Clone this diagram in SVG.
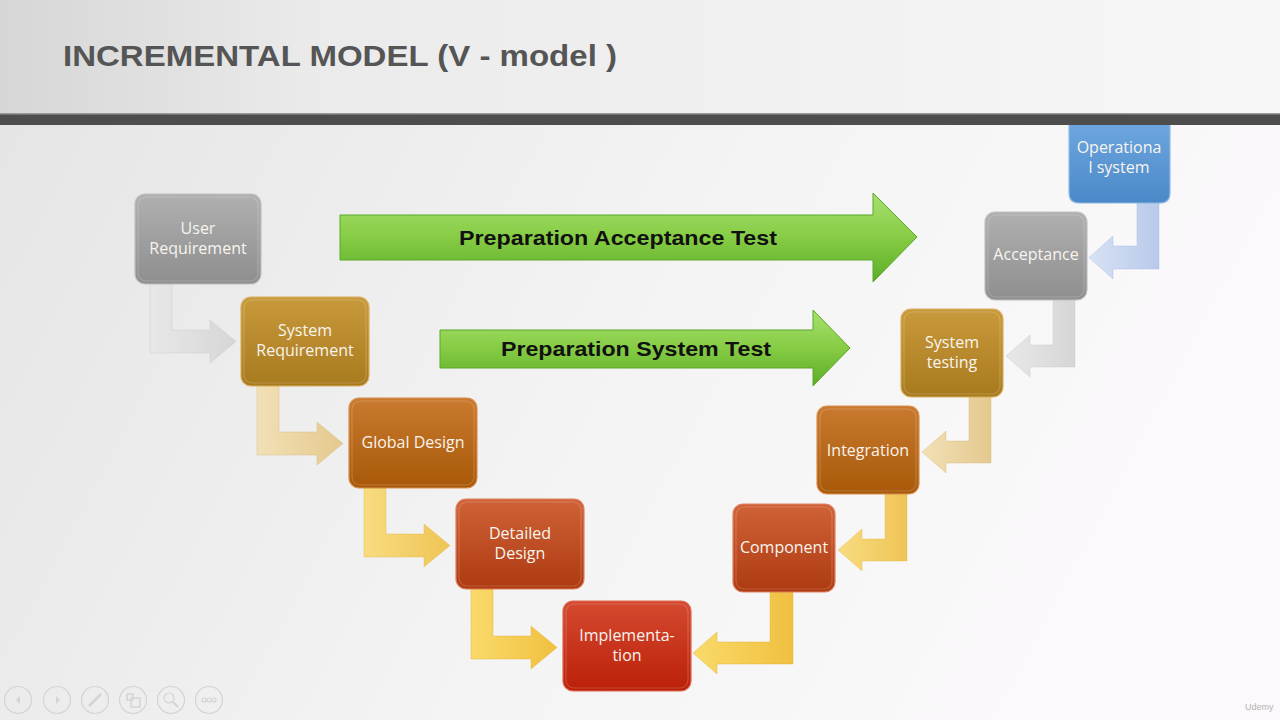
<svg xmlns="http://www.w3.org/2000/svg" width="1280" height="720" viewBox="0 0 1280 720">
<defs>
<linearGradient id="bg" x1="0" y1="0" x2="1" y2="0.3">
<stop offset="0" stop-color="#e4e4e4"/><stop offset="0.6" stop-color="#f4f4f4"/><stop offset="1" stop-color="#fbf9fb"/>
</linearGradient>
<linearGradient id="hdr" x1="0" y1="0" x2="1" y2="0">
<stop offset="0" stop-color="#d6d6d6"/><stop offset="0.25" stop-color="#ebebeb"/><stop offset="1" stop-color="#f7f7f7"/>
</linearGradient>
<linearGradient id="gGray" x1="0" y1="0" x2="0" y2="1"><stop offset="0" stop-color="#b0b0b0"/><stop offset="1" stop-color="#8e8e8e"/></linearGradient>
<linearGradient id="gGold" x1="0" y1="0" x2="0" y2="1"><stop offset="0" stop-color="#c89a3c"/><stop offset="1" stop-color="#a87a1e"/></linearGradient>
<linearGradient id="gOrange" x1="0" y1="0" x2="0" y2="1"><stop offset="0" stop-color="#c97a2e"/><stop offset="1" stop-color="#a85808"/></linearGradient>
<linearGradient id="gRedO" x1="0" y1="0" x2="0" y2="1"><stop offset="0" stop-color="#d06238"/><stop offset="1" stop-color="#ad3a10"/></linearGradient>
<linearGradient id="gRed" x1="0" y1="0" x2="0" y2="1"><stop offset="0" stop-color="#d44a30"/><stop offset="1" stop-color="#bb2008"/></linearGradient>
<linearGradient id="gBlue" x1="0" y1="0" x2="0" y2="1"><stop offset="0" stop-color="#6fa8e0"/><stop offset="1" stop-color="#4a88c8"/></linearGradient>
<linearGradient id="gGreen" x1="0" y1="0" x2="0" y2="1"><stop offset="0" stop-color="#a8e070"/><stop offset="0.5" stop-color="#86cc44"/><stop offset="1" stop-color="#5cad28"/></linearGradient>
<linearGradient id="aGray" x1="0" y1="0" x2="1" y2="0"><stop offset="0" stop-color="#e8e8e8"/><stop offset="1" stop-color="#d6d6d6"/></linearGradient>
<linearGradient id="aTan" x1="0" y1="0" x2="1" y2="0"><stop offset="0" stop-color="#f2e0b6"/><stop offset="1" stop-color="#e4c98e"/></linearGradient>
<linearGradient id="aYel" x1="0" y1="0" x2="1" y2="0"><stop offset="0" stop-color="#f8dc80"/><stop offset="1" stop-color="#efc456"/></linearGradient>
<linearGradient id="aYel2" x1="0" y1="0" x2="1" y2="0"><stop offset="0" stop-color="#fada6a"/><stop offset="1" stop-color="#f0c040"/></linearGradient>
<linearGradient id="aBlue" x1="0" y1="0" x2="1" y2="0"><stop offset="0" stop-color="#d8e2f4"/><stop offset="1" stop-color="#b8c9ea"/></linearGradient>
</defs>
<style>
.node text{font-family:"Open Sans","Noto Sans","Liberation Sans",sans-serif;font-size:16px;fill:#f8f4ee;text-anchor:middle}
.box{stroke-width:1.2}
.hl{fill:none;stroke:#ffffff;stroke-opacity:0.18;stroke-width:1.2}
.conn path{stroke-width:0.8;stroke-opacity:0.5}
.green text{font-family:"Liberation Sans",Arial,sans-serif;font-weight:bold;font-size:21px;fill:#111;text-anchor:middle}
.tb circle{fill:none;stroke:#d4d4d4;stroke-width:1.2}
</style>
<rect x="0" y="0" width="1280" height="720" fill="url(#bg)"/>
<rect x="0" y="0" width="1280" height="114" fill="url(#hdr)"/>
<text x="63" y="66" font-family="Liberation Sans,Arial,sans-serif" font-weight="bold" font-size="30" fill="#555555" textLength="554" lengthAdjust="spacingAndGlyphs">INCREMENTAL MODEL (V - model )</text>

<g id="connectors" class="conn">
<path d="M150,284 L172,284 L172,330 L210,330 L210,320 L236,341.5 L210,363 L210,353 L150,353 Z" fill="url(#aGray)" stroke="#c8c8c8"/>
<path d="M257,386 L279,386 L279,432 L317,432 L317,422 L343,443.5 L317,465 L317,455 L257,455 Z" fill="url(#aTan)" stroke="#d8bc80"/>
<path d="M364,488 L386,488 L386,534 L424,534 L424,524 L450,545.5 L424,567 L424,557 L364,557 Z" fill="url(#aYel)" stroke="#e0b848"/>
<path d="M471,589 L493,589 L493,636 L531,636 L531,626 L557,647.5 L531,669 L531,659 L471,659 Z" fill="url(#aYel2)" stroke="#e0b030"/>
<path d="M1137,203 L1159,203 L1159,269 L1113,269 L1113,279 L1089,257.5 L1113,236 L1113,246 L1137,246 Z" fill="url(#aBlue)" stroke="#a8bce0"/>
<path d="M1053,300 L1075,300 L1075,367 L1030,367 L1030,377 L1006,356 L1030,335 L1030,345 L1053,345 Z" fill="url(#aGray)" stroke="#c8c8c8"/>
<path d="M969,397 L991,397 L991,463 L946,463 L946,473 L922,452 L946,431 L946,441 L969,441 Z" fill="url(#aTan)" stroke="#d8bc80"/>
<path d="M885,494 L907,494 L907,561 L862,561 L862,571 L838,550 L862,529 L862,539 L885,539 Z" fill="url(#aYel)" stroke="#e0b848"/>
<path d="M770,592 L793,592 L793,664 L717,664 L717,674 L693,653 L717,632 L717,642 L770,642 Z" fill="url(#aYel2)" stroke="#e0b030"/>
</g>

<g id="arrow-acceptance-test" class="green">
<path d="M340,215 L873,215 L873,193 L917,237 L873,282 L873,260 L340,260 Z" fill="url(#gGreen)" stroke="#5aa828" stroke-width="1"/>
<text x="618" y="245" textLength="318" lengthAdjust="spacingAndGlyphs">Preparation Acceptance Test</text>
</g>
<g id="arrow-system-test" class="green">
<path d="M440,330 L813,330 L813,310 L850,348 L813,386 L813,368 L440,368 Z" fill="url(#gGreen)" stroke="#5aa828" stroke-width="1"/>
<text x="636" y="356" textLength="270" lengthAdjust="spacingAndGlyphs">Preparation System Test</text>
</g>

<g id="user-requirement" class="node">
<rect class="box" x="135" y="194" width="126" height="90" rx="10" fill="url(#gGray)" stroke="#c0c0c0"/>
<rect class="hl" x="138" y="197" width="120" height="84" rx="8"/>
<text x="198" y="234">User</text><text x="198" y="254">Requirement</text>
</g>
<g id="system-requirement" class="node">
<rect class="box" x="241" y="297" width="128" height="89" rx="10" fill="url(#gGold)" stroke="#d8b060"/>
<rect class="hl" x="244" y="300" width="122" height="83" rx="8"/>
<text x="305" y="336">System</text><text x="305" y="356">Requirement</text>
</g>
<g id="global-design" class="node">
<rect class="box" x="349" y="398" width="128" height="90" rx="10" fill="url(#gOrange)" stroke="#d89050"/>
<rect class="hl" x="352" y="401" width="122" height="84" rx="8"/>
<text x="413" y="448">Global Design</text>
</g>
<g id="detailed-design" class="node">
<rect class="box" x="456" y="499" width="128" height="90" rx="10" fill="url(#gRedO)" stroke="#e08060"/>
<rect class="hl" x="459" y="502" width="122" height="84" rx="8"/>
<text x="520" y="539">Detailed</text><text x="520" y="559">Design</text>
</g>
<g id="implementation" class="node">
<rect class="box" x="563" y="601" width="128" height="90" rx="10" fill="url(#gRed)" stroke="#e06850"/>
<rect class="hl" x="566" y="604" width="122" height="84" rx="8"/>
<text x="627" y="641">Implementa-</text><text x="627" y="661">tion</text>
</g>
<g id="component" class="node">
<rect class="box" x="733" y="504" width="102" height="88" rx="10" fill="url(#gRedO)" stroke="#e08060"/>
<rect class="hl" x="736" y="507" width="96" height="82" rx="8"/>
<text x="784" y="553">Component</text>
</g>
<g id="integration" class="node">
<rect class="box" x="817" y="406" width="102" height="88" rx="10" fill="url(#gOrange)" stroke="#d89050"/>
<rect class="hl" x="820" y="409" width="96" height="82" rx="8"/>
<text x="868" y="456">Integration</text>
</g>
<g id="system-testing" class="node">
<rect class="box" x="901" y="309" width="102" height="88" rx="10" fill="url(#gGold)" stroke="#d8b060"/>
<rect class="hl" x="904" y="312" width="96" height="82" rx="8"/>
<text x="952" y="348">System</text><text x="952" y="368">testing</text>
</g>
<g id="acceptance" class="node">
<rect class="box" x="985" y="212" width="102" height="88" rx="10" fill="url(#gGray)" stroke="#c0c0c0"/>
<rect class="hl" x="988" y="215" width="96" height="82" rx="8"/>
<text x="1036" y="260">Acceptance</text>
</g>
<g id="operational-system" class="node">
<path class="box" d="M1069,120 L1170,120 L1170,193 Q1170,203 1160,203 L1079,203 Q1069,203 1069,193 Z" fill="url(#gBlue)" stroke="#90bce8"/>
<text x="1119" y="153">Operationa</text><text x="1119" y="173">l system</text>
</g>

<rect x="0" y="114" width="1280" height="11" fill="#4d4d4d"/>
<rect x="0" y="113" width="1280" height="1.5" fill="#9a9a9a"/>

<g id="toolbar" class="tb">
<circle cx="18" cy="700" r="13.5"/><circle cx="57" cy="700" r="13.5"/><circle cx="95" cy="700" r="13.5"/>
<circle cx="133" cy="700" r="13.5"/><circle cx="171" cy="700" r="13.5"/><circle cx="209" cy="700" r="13.5"/>
<path d="M20,696 L16,700 L20,704 Z" fill="#d4d4d4"/>
<path d="M56,696 L60,700 L56,704 Z" fill="#d4d4d4"/>
<path d="M89,706 L101,694" stroke="#d4d4d4" stroke-width="2.5"/>
<rect x="127" y="694" width="6" height="6" fill="none" stroke="#d4d4d4" stroke-width="1.5"/><rect x="131" y="698" width="9" height="9" fill="none" stroke="#d4d4d4" stroke-width="1.5"/>
<circle cx="169" cy="698" r="5" stroke-width="1.5"/><path d="M173,702 L178,707" stroke="#d4d4d4" stroke-width="2"/>
<circle cx="204" cy="700" r="2" stroke-width="1"/><circle cx="209" cy="700" r="2" stroke-width="1"/><circle cx="214" cy="700" r="2" stroke-width="1"/>
</g>
<text x="1245" y="710" font-family="Liberation Sans,Arial,sans-serif" font-size="9" fill="#b4b4b4">Udemy</text>
</svg>
